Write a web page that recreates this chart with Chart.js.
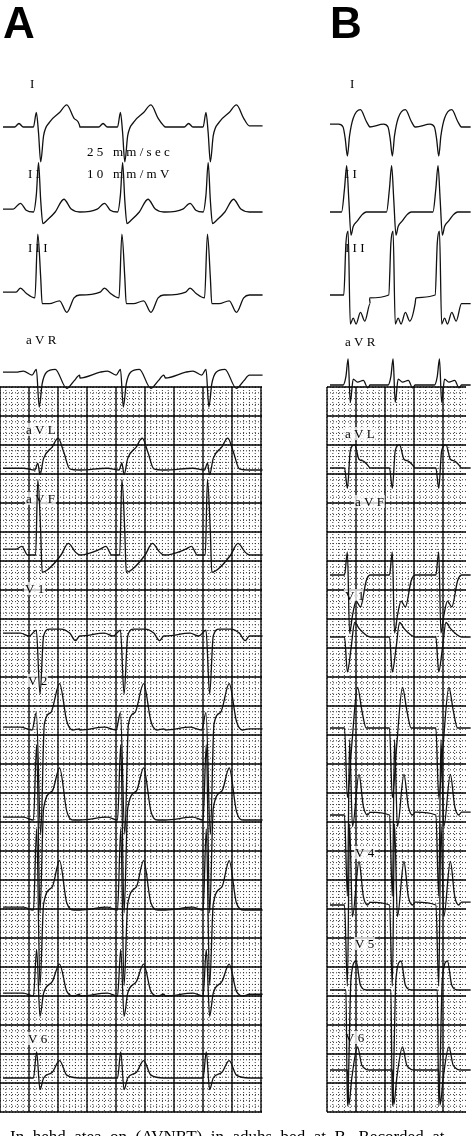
<!DOCTYPE html>
<html><head><meta charset="utf-8">
<script src="https://cdn.jsdelivr.net/npm/chart.js@4/dist/chart.umd.min.js"></script>
<style>html,body{margin:0;padding:0;background:#fff}#w{width:474px;height:1136px;position:relative}</style>
</head><body><div id="w"><canvas id="c"></canvas></div>
<script>
// ---- data (dt in ms relative to QRS, amplitude in mV) ----
const leadNames = ["I","II","III","aVR","aVL","aVF","V1","V2","V3","V4","V5","V6"];
const beatsA = [0.24, 0.82, 1.41];          // s, panel A QRS times
const beatsB = [0.12, 0.43, 0.75];          // s, panel B QRS times
const durA = 1.79, durB = 0.97;             // s, trace lengths

const I_A   = [[-290,0],[-160,0],[-130,0.06],[-100,0],[-30,0],[-10,0.25],[5,-0.1],[20,-0.6],[40,-0.15],[80,0.08],[150,0.25],[200,0.38],[250,0.15],[289,0.02]];
const II_A  = [[-290,0],[-170,0.05],[-120,0.15],[-80,0.03],[-30,0],[-10,0.3],[5,0.85],[20,0.2],[35,-0.2],[60,-0.15],[120,0],[180,0.22],[230,0.05],[289,0]];
const III_A = [[-290,0],[-150,0.05],[-120,0.12],[-80,0.03],[-20,-0.05],[0,1.05],[20,0.3],[30,-0.15],[80,-0.15],[150,-0.1],[200,-0.3],[250,-0.05],[289,0]];
const aVR_A = [[-290,0],[-150,0.1],[-100,0.12],[-40,0.05],[-10,0.15],[10,-0.5],[30,-0.1],[60,0.1],[120,0.15],[200,-0.18],[250,-0.05],[289,0.05]];
const aVL_A = [[-290,0],[-100,0.03],[-20,0],[0,0.12],[15,-0.08],[40,0.2],[100,0.4],[140,0.55],[180,0.3],[220,0.02],[289,0]];
const aVF_A = [[-290,0],[-150,0.1],[-110,0.15],[-70,0],[-15,0],[0,1.3],[20,0.4],[30,-0.3],[70,-0.25],[160,0],[210,0.2],[260,0.05],[289,0]];
const V1_A  = [[-290,0],[-120,0.05],[-60,0],[-10,0.1],[15,-1.0],[40,0],[80,0.12],[160,0.12],[220,0.05],[260,-0.08],[289,0]];
const V2_A  = [[-290,0],[-120,0.05],[-40,0],[-10,0.3],[20,-1.8],[45,0.1],[90,0.3],[150,0.8],[200,0.15],[240,0],[289,0.02]];
const V3_A  = [[-290,0],[-100,0.05],[-30,0],[-8,1.3],[15,-1.6],[40,0.2],[100,0.5],[150,0.9],[200,0.15],[250,0],[289,0]];
const V4_A  = [[-290,0],[-100,0.05],[-30,0],[-8,1.4],[15,-1.3],[40,0.1],[100,0.4],[150,0.85],[200,0.12],[250,0],[289,0]];
const V5_A  = [[-290,0],[-100,0.05],[-30,0],[-8,0.8],[15,-0.35],[40,0.05],[100,0.25],[150,0.55],[200,0.08],[250,0],[289,0.03]];
const V6_A  = [[-290,0],[-30,0],[-8,0.45],[15,-0.2],[40,0],[100,0.1],[150,0.3],[200,0.05],[289,0]];

const I_B   = [[-158,0],[-60,0.05],[-30,0],[-15,-0.2],[0,-0.5],[15,-0.15],[40,0.15],[90,0.3],[130,0.1],[157,0]];
const II_B  = [[-158,0],[-40,0],[-20,0.4],[-5,0.8],[10,0.2],[25,-0.4],[40,-0.25],[70,-0.15],[100,-0.05],[130,0],[157,0]];
const III_B = [[-158,-0.05],[-25,0],[-10,0.9],[5,1.1],[20,-0.5],[40,-0.4],[60,-0.5],[90,-0.3],[120,-0.45],[157,-0.15]];
const aVR_B = [[-158,0],[-30,0],[-10,0.15],[5,0.45],[20,-0.3],[40,0.1],[70,0.05],[110,0.08],[140,-0.05],[157,0]];
const aVL_B = [[-158,0],[-20,0],[0,-0.35],[20,0.3],[50,0.4],[80,0.15],[110,0.12],[140,0.05],[157,0]];
const aVF_B = [[-158,0],[-20,0],[0,0.4],[15,-1.0],[35,-0.7],[60,-0.45],[90,-0.55],[130,-0.1],[157,0]];
const V1_B  = [[-158,0],[-20,0],[0,-0.6],[25,-0.2],[50,0.25],[80,0.15],[120,0.05],[157,0]];
const V2_B  = [[-158,0],[-20,0],[0,-1.2],[30,-0.3],[70,0.7],[100,0.3],[130,0],[157,0]];
const V3_B  = [[-158,0.05],[-20,0],[0,-1.4],[15,1.3],[35,-0.2],[80,0.7],[110,0.15],[140,0],[157,0.05]];
const V4_B  = [[-158,0.05],[-20,0],[0,-1.4],[15,1.4],[35,-0.2],[80,0.75],[110,0.15],[140,0],[157,0.05]];
const V5_B  = [[-158,0],[-10,0],[0,-2.0],[25,0.2],[60,0.5],[90,0.08],[130,0],[157,0]];
const V6_B  = [[-158,0],[0,0],[10,-0.6],[30,-0.15],[70,0.4],[100,0.08],[157,0]];

const templatesA = [I_A,II_A,III_A,aVR_A,aVL_A,aVF_A,V1_A,V2_A,V3_A,V4_A,V5_A,V6_A];
const templatesB = [I_B,II_B,III_B,aVR_B,aVL_B,aVF_B,V1_B,V2_B,V3_B,V4_B,V5_B,V6_B];

// ---- layout (paper: 25 mm/s, 10 mm/mV, 5.8 px/mm) ----
const PXS = 145, PXMV = 58;
const baseA = [127,212,295,378,470,555,636,730,820,910,996,1078];
const baseB = [127,212,295,385,468,575,637,728,815,905,990,1070];
const x0A = 3, x0B = 330;

function trace(tpl, beats, dur, t0, base){
  const raw=[];
  beats.forEach(b=>tpl.forEach(([dt,v])=>{const t=b+dt/1000; if(t>=0&&t<=dur) raw.push([t,v]);}));
  if(raw[0][0]>0) raw.unshift([0,raw[0][1]]);
  if(raw[raw.length-1][0]<dur) raw.push([dur,raw[raw.length-1][1]]);
  return raw.map(([t,v])=>({x:(t0+t*PXS)/PXS, y:-base/PXMV+v}));
}
const datasets=[];
leadNames.forEach((n,i)=>{
  datasets.push({label:n+" A",data:trace(templatesA[i],beatsA,durA,x0A,baseA[i])});
  datasets.push({label:n+" B",data:trace(templatesB[i],beatsB,durB,x0B,baseB[i])});
});
datasets.forEach(d=>Object.assign(d,{showLine:true,pointRadius:0,borderColor:"#111",borderWidth:1.3,cubicInterpolationMode:"monotone"}));

const labels=[
  ["I",30,88],["II",28,178],["III",28,252],["aVR",26,344],["aVL",26,434],["aVF",26,503],["V1",25,593],["V2",28,685],["V6",28,1043],
  ["I",350,88],["II",345,178],["III",345,252],["aVR",345,346],["aVL",345,438],["aVF",355,506],["V1",345,600],["V4",355,857],["V5",355,948],["V6",345,1042]
];
const gridPlugin={id:"grid",beforeDatasetsDraw(ch){
  const c=ch.ctx; c.save();
  function grid(x1,x2,y1,y2){
    c.strokeStyle="#222"; c.lineWidth=0.9; c.setLineDash([1,2]);
    for(let x=x1;x<=x2;x+=5.8){c.beginPath();c.moveTo(x,y1);c.lineTo(x,y2);c.stroke();}
    for(let y=y1;y<=y2;y+=5.8){c.beginPath();c.moveTo(x1,y);c.lineTo(x2,y);c.stroke();}
    c.setLineDash([]); c.strokeStyle="#000"; c.lineWidth=1.3;
    for(let x=x1;x<=x2;x+=29){c.beginPath();c.moveTo(x,y1);c.lineTo(x,y2);c.stroke();}
    for(let y=y1;y<=y2;y+=29){c.beginPath();c.moveTo(x1,y);c.lineTo(x2,y);c.stroke();}
  }
  grid(0,262,387,1112); grid(327,466,387,1112);
  c.fillStyle="#000"; c.font="bold 44px 'Liberation Sans'"; c.textBaseline="alphabetic";
  c.fillText("A",3,38); c.fillText("B",330,38);
  c.font="13px 'Liberation Serif'";
  c.fillText("2 5   m m / s e c",87,156); c.fillText("1 0   m m / m V",87,178);
  labels.forEach(([t,x,y])=>{
    c.font="13px 'Liberation Serif'"; const s=t.split("").join(" "); const w=c.measureText(s).width;
    if(y>380){c.fillStyle="rgba(255,255,255,0.75)";c.fillRect(x-1,y-11,w+2,13);}
    c.fillStyle="#000"; c.fillText(s,x,y);
  });
  c.font="17px 'Liberation Serif'";
  c.fillText("In  hehd  atea  on  (AVNRT)  in  aduhs  bed  at  B,  Recorded  at",10,1142);
  c.restore();
}};
new Chart(document.getElementById("c"),{
  type:"scatter",
  data:{datasets},
  options:{responsive:true,maintainAspectRatio:false,animation:false,
    layout:{padding:0},
    plugins:{legend:{display:false},tooltip:{enabled:false}},
    scales:{x:{type:"linear",min:0,max:474/PXS,display:false},
            y:{type:"linear",min:-1136/PXMV,max:0,display:false}}},
  plugins:[gridPlugin]
});
</script></body></html>
